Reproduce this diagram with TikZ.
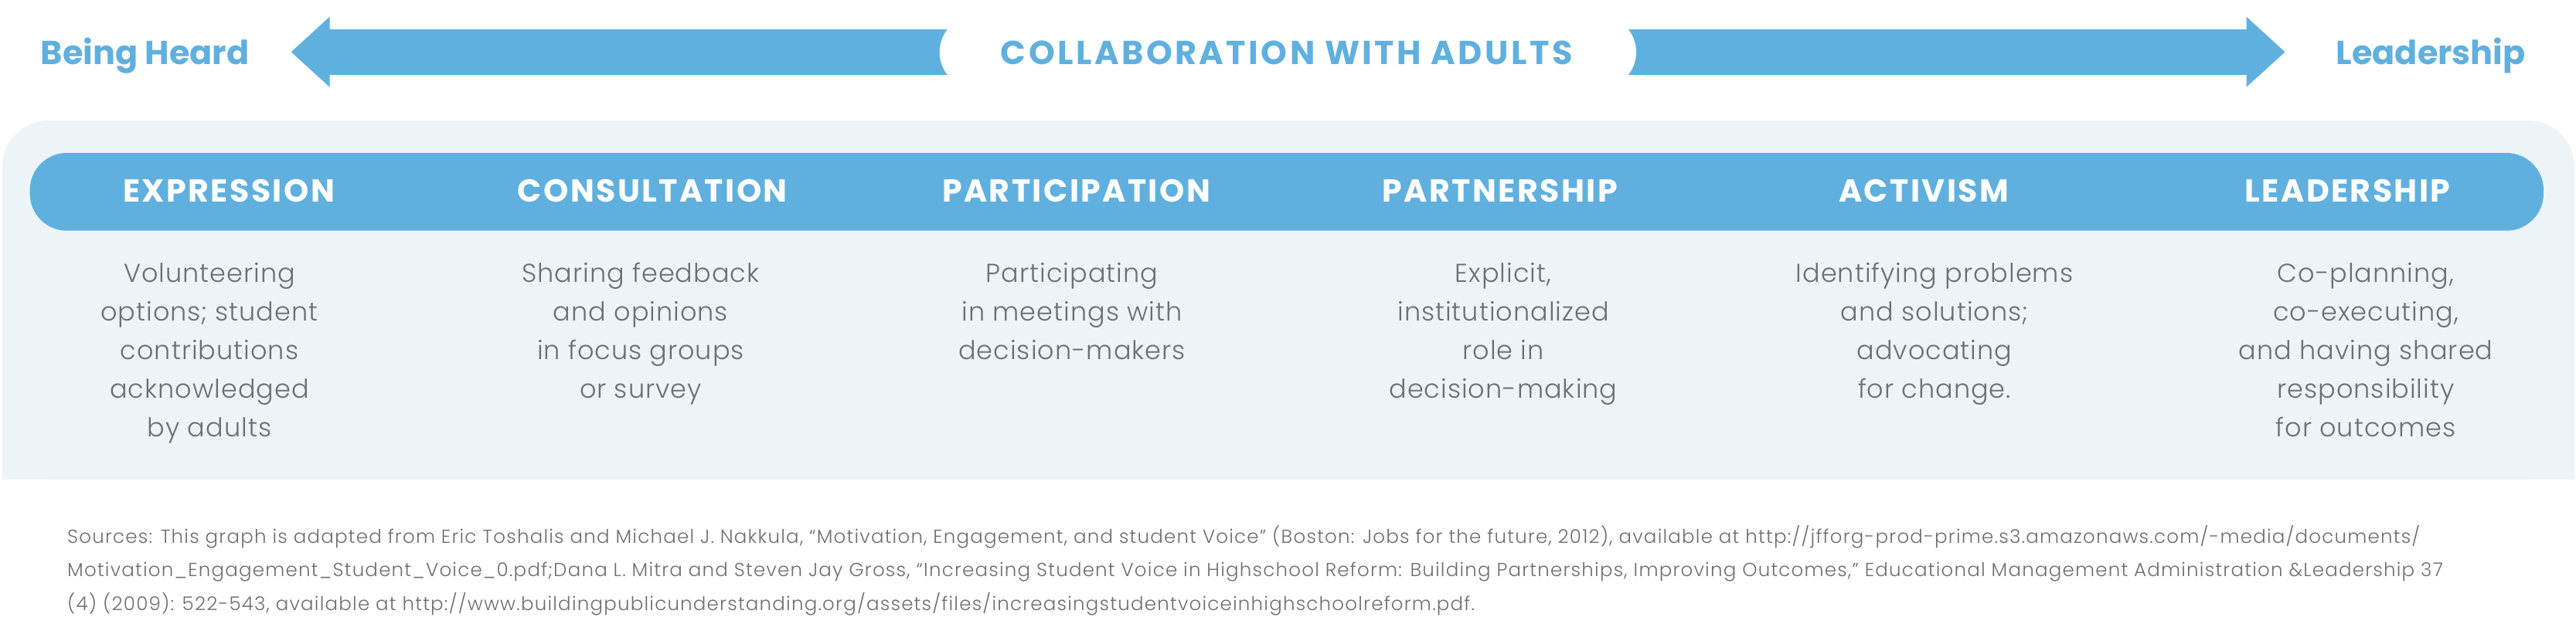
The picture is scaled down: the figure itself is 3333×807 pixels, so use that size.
\documentclass[tikz,border=0pt]{standalone}
\usepackage{fontspec}
\setmainfont{Poppins}
\newfontfamily\boldfont{Poppins}[UprightFont=* Bold]
\newfontfamily\titlefont{Poppins}[UprightFont=* Bold, LetterSpace=8]
\newfontfamily\headfont{Poppins}[UprightFont=* Bold, LetterSpace=6]
\newfontfamily\descfont{Poppins Light}[LetterSpace=3]
\newfontfamily\footfont{Poppins Light}[LetterSpace=5]
\definecolor{bluec}{RGB}{96,176,223}
\definecolor{panelc}{RGB}{236,244,248}
\definecolor{grayc}{RGB}{109,110,113}
\newcommand{\lines}[2]{\begin{tabular}[t]{@{}#1@{}}#2\end{tabular}}
\tikzset{
  toplabel/.style={inner sep=0pt, text=bluec, font=\boldfont\fontsize{43}{43}\selectfont},
  titlelabel/.style={inner sep=0pt, text=bluec, font=\titlefont\fontsize{43}{43}\selectfont},
  header/.style={inner sep=0pt, text=white, anchor=base, font=\headfont\fontsize{41}{41}\selectfont},
  desc/.style={inner sep=0pt, text=grayc, anchor=base, font=\descfont\fontsize{33.5}{50}\selectfont},
  foot/.style={inner sep=0pt, text=grayc, anchor=base west, font=\footfont\fontsize{24.5}{43.5}\selectfont}
}
\begin{document}
\begin{tikzpicture}[x=1pt,y=-1pt]
\useasboundingbox (0,0) rectangle (3333,807);
% panel
\fill[panelc, rounded corners=60] (3,156) rectangle (3331,621);
\fill[panelc] (3,320) rectangle (3331,621);
% blue bar
\fill[bluec, rounded corners=48] (38.6,198) rectangle (3291,298.7);
% double arrow
\fill[bluec] (426.5,38) -- (2906.6,38) -- (2906.6,21.7) -- (2956.5,67.3) -- (2906.6,112.7)
  -- (2906.6,97) -- (426.5,97) -- (426.5,112.7) -- (376.7,67.3) -- (426.5,21.7) -- cycle;
\fill[white, rounded corners=47.4] (1215.7,20.1) rectangle (2117,114.9);
% top labels
\node[toplabel, anchor=base west] (beingheard) at (52.6,83.3) {Being Heard};
\node[titlelabel, anchor=base] (collab) at (1664.7,83.3) {COLLABORATION WITH ADULTS};
\node[toplabel, anchor=base east] (leadtop) at (3268,83.3) {Leadership};
% headers
\node[header] (h1) at (296,261.7) {EXPRESSION};
\node[header] (h2) at (844.3,261.7) {CONSULTATION};
\node[header] (h3) at (1392.6,261.7) {PARTICIPATION};
\node[header] (h4) at (1940.9,261.7) {PARTNERSHIP};
\node[header] (h5) at (2489.2,261.7) {ACTIVISM};
\node[header] (h6) at (3037.5,261.7) {LEADERSHIP};
% descriptions
\node[desc] (d1) at (271,365) {\lines{c}{Volunteering\\options; student\\contributions\\acknowledged\\by adults}};
\node[desc] (d2) at (829,365) {\lines{c}{Sharing feedback\\and opinions\\in focus groups\\or survey}};
\node[desc] (d3) at (1387,365) {\lines{c}{Participating\\in meetings with\\decision-makers}};
\node[desc] (d4) at (1945,365) {\lines{c}{Explicit,\\institutionalized\\role in\\decision-making}};
\node[desc] (d5) at (2503,365) {\lines{c}{Identifying problems\\and solutions;\\advocating\\for change.}};
\node[desc] (d6) at (3061,365) {\lines{c}{Co-planning,\\co-executing,\\and having shared\\responsibility\\for outcomes}};
% sources
\node[foot] (src) at (87,703) {\lines{l}{Sources: This graph is adapted from Eric Toshalis and Michael J. Nakkula, “Motivation, Engagement, and student Voice” (Boston: Jobs for the future, 2012), available at http://jfforg-prod-prime.s3.amazonaws.com/-media/documents/\\Motivation\_Engagement\_Student\_Voice\_0.pdf;Dana L. Mitra and Steven Jay Gross, “Increasing Student Voice in Highschool Reform: Building Partnerships, Improving Outcomes,” Educational Management Administration \&Leadership 37\\(4) (2009): 522-543, available at http://www.buildingpublicunderstanding.org/assets/files/increasingstudentvoiceinhighschoolreform.pdf.}};
\end{tikzpicture}
\end{document}
